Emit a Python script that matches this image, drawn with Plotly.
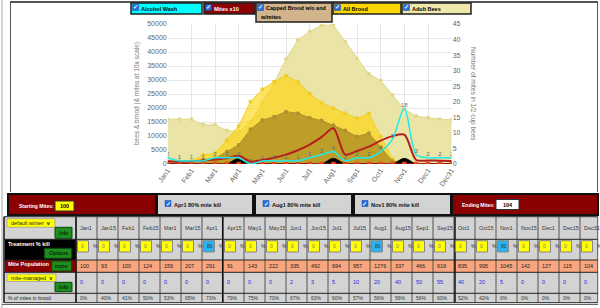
import plotly.graph_objects as go

W, H = 600, 308
def X(p): return p / W
def Y(p): return 1 - p / H

# ---------------- data ----------------
dates = ["Jan1","Jan15","Feb1","Feb15","Mar1","Mar15","Apr1","Apr15","May1","May15","Jun1","Jun15",
         "Jul1","Jul15","Aug1","Aug15","Sep1","Sep15","Oct1","Oct15","Nov1","Nov15","Dec1","Dec15","Dec31"]
adult_bees = [16000,16000,16000,14000,14000,12000,11500,15000,22000,29000,37500,44300,47300,49600,
              49600,43700,37700,32100,29800,24600,19500,17100,16500,16000,15800]
all_brood = [1000,1000,1000,3200,3800,8600,13600,22200,26700,29400,31500,29400,25200,21900,19900,
             18100,16300,18000,9800,1800,0,0,0,0,0]
capped_brood = [500,500,500,1500,2000,4400,6800,12400,15700,16900,18700,18100,16500,15500,13800,
                12000,9800,11000,6000,1000,0,0,0,0,0]
treatment_marker = [0,0,0,0,0,0,2000,0,0,0,0,0,0,0,2000,0,0,0,0,0,2000,0,0,0,0]
zero_line = [0]*25
mite_pop = [100,93,100,124,159,207,291,91,143,222,335,492,694,957,1276,337,466,619,835,995,1045,142,127,115,104]
alcohol_wash = [2,1,1,1,2,2,2,0,1,1,1,1,2,3,4,1,2,2,4,8,18,3,2,2,2]
treatment_kill = [0,0,0,0,0,0,80,0,0,0,0,0,0,0,80,0,0,0,0,0,80,0,0,0,0]
mite_managed = [0,0,0,0,0,0,0,0,0,0,2,3,5,10,20,40,50,55,40,20,5,0,0,0,0]
pct_in_brood = [0,40,41,50,53,65,73,79,75,70,67,63,60,57,56,56,56,60,52,42,0,0,0,0,0]
starting_mites = "100"
ending_mites = "104"

xs = list(range(len(dates)))
mites_x10 = [m * 10 for m in mite_pop]

FONT = "Arial, Liberation Sans, sans-serif"
fig = go.Figure()
fig.add_trace(go.Scatter(x=xs, y=adult_bees, fill='tozeroy', mode='lines+markers',
                         line=dict(color='rgb(226,216,140)', width=1),
                         marker=dict(size=4, color='rgb(226,216,140)'),
                         fillcolor='rgb(234,228,166)', hoverinfo='skip'))
fig.add_trace(go.Scatter(x=xs, y=all_brood, fill='tozeroy', mode='lines+markers',
                         line=dict(color='rgb(240,205,40)', width=1),
                         marker=dict(size=4, color='rgb(240,205,40)'),
                         fillcolor='rgba(255,212,0,0.6)', hoverinfo='skip'))
fig.add_trace(go.Scatter(x=xs, y=capped_brood, fill='tozeroy', mode='lines+markers',
                         line=dict(color='rgb(175,145,45)', width=1),
                         marker=dict(size=4, color='rgb(175,145,45)'),
                         fillcolor='rgba(140,110,20,0.55)', hoverinfo='skip'))
fig.add_trace(go.Scatter(x=xs, y=treatment_marker, fill='tozeroy', mode='lines',
                         line=dict(color='black', width=1, shape='spline', smoothing=1),
                         fillcolor='black', hoverinfo='skip'))
fig.add_trace(go.Scatter(x=xs, y=zero_line, mode='lines+markers',
                         line=dict(color='rgb(150,20,20)', width=1.5),
                         marker=dict(symbol='square', size=4.5, color='rgb(228,70,25)'),
                         hoverinfo='skip'))
fig.add_trace(go.Scatter(x=xs, y=mites_x10, mode='lines',
                         line=dict(color='rgb(180,30,30)', width=2, shape='spline', smoothing=0.8),
                         hoverinfo='skip'))
fig.add_trace(go.Scatter(x=xs, y=alcohol_wash, mode='lines+text', yaxis='y2',
                         text=[str(v) for v in alcohol_wash], textposition='top center',
                         textfont=dict(size=6, color='rgb(90,110,140)', family=FONT),
                         line=dict(color='rgb(30,235,235)', width=1.5, shape='spline', smoothing=0.8),
                         hoverinfo='skip'))

shapes = []
annots = []

def rect(x0, y0, x1, y1, fill, line=None, lw=1):
    shapes.append(dict(type='rect', xref='paper', yref='paper', x0=X(x0), x1=X(x1),
                       y0=Y(y1), y1=Y(y0), fillcolor=fill, layer='above',
                       line=dict(color=line if line else fill, width=lw if line else 0)))

def hline(x0, x1, y, color, lw=1):
    shapes.append(dict(type='line', xref='paper', yref='paper', x0=X(x0), x1=X(x1),
                       y0=Y(y), y1=Y(y), line=dict(color=color, width=lw), layer='above'))

def vline(x, y0, y1, color, lw=1):
    shapes.append(dict(type='line', xref='paper', yref='paper', x0=X(x), x1=X(x),
                       y0=Y(y0), y1=Y(y1), line=dict(color=color, width=lw), layer='above'))

def text(x, y, s, size=5.5, color='#000', anchor='left', bold=False, angle=0):
    annots.append(dict(xref='paper', yref='paper', x=X(x), y=Y(y), text=('<b>%s</b>' % s) if bold else s,
                       showarrow=False, xanchor=anchor, yanchor='middle', textangle=angle,
                       font=dict(size=size, color=color, family=FONT)))

def checkbox(x, y):
    rect(x, y - 3, x + 6, y + 3, 'rgb(40,110,220)', 'rgb(20,70,170)', 0.5)
    text(x + 3, y, '✓', size=5.5, color='white', anchor='center', bold=True)

# ---------- outer frame ----------
vline(2, 0, 308, '#aaa', 1)
vline(10.5, 2, 192, '#555', 1)
hline(10, 598, 2, '#555', 2)
vline(597.5, 2, 192, '#555', 1)

# ---------- top legend boxes ----------
leg = [("Alcohol Wash", 131, 202, 'rgb(0,255,255)', 'black', 14),
       ("Mites x10", 204, 255, 'rgb(139,0,0)', 'white', 14),
       ("Capped Brood w/o and<br>w/mites", 256, 332, 'rgb(210,180,140)', 'black', 22),
       ("All Brood", 333, 401, 'rgb(255,215,0)', 'black', 14),
       ("Adult Bees", 402, 471, 'rgb(238,232,170)', 'black', 14)]
for name, x0, x1, fc, tc, yb in leg:
    rect(x0, 3, x1, yb, fc, '#222', 1.5)
    checkbox(x0 + 1.5, 7.5)
    if '<br>' in name:
        text(x0 + 8, 7.8, "Capped Brood w/o and", size=5.5, color=tc, bold=True)
        text(x0 + 1.5, 16.5, "w/mites", size=5.5, color=tc, bold=True)
    else:
        text(x0 + 8, 8.8, name, size=5.5, color=tc, bold=True)

# axis titles
text(137, 94, "bees & brood (& mites at 10x scale)", size=6.5, color='#777', anchor='center', angle=-90)
text(473, 94, "Number of mites in 1/2 cup bees", size=6.5, color='#777', anchor='center', angle=90)

# ---------- middle bar ----------
rect(8, 194, 156, 215, 'rgb(139,0,0)', '#111', 2)
text(17, 205.5, "Starting Mites:", size=5, color='white', bold=True)
rect(55, 201, 74, 211, 'rgb(255,255,0)', '#333', 1)
text(58, 206, starting_mites, size=5.5, color='#000', bold=True)
for lbl, x0, x1 in [("Apr1 80% mite kill", 157, 253), ("Aug1 80% mite kill", 255, 352),
                    ("Nov1 80% mite kill", 354, 451)]:
    rect(x0, 194, x1, 215, 'rgb(211,211,211)', '#111', 2)
    checkbox(x0 + 8, 203.5)
    text(x0 + 14.5, 204.5, lbl, size=5.5, color='#111', bold=True)
rect(452, 194, 598, 215, 'rgb(139,0,0)', '#111', 2)
text(460, 204.5, "Ending Mites:", size=5, color='white', bold=True)
rect(496, 199.5, 519, 209.5, 'white', '#333', 1)
text(501, 204.5, ending_mites, size=5.5, color='#000', bold=True)

# ---------- table ----------
T0, T1 = 216.7, 302.7
rows = [216.7, 239.3, 260, 272.3, 293.3, 302.7]
colx = [76 + 21 * i for i in range(len(dates))] + [597.7]
rect(4, T0, 597.7, T1, 'rgb(211,211,211)')
rect(5, 239.3, 76, 260, 'black')
rect(5, 260, 76, 272.3, 'rgb(139,0,0)')
rect(76, 260, 597.7, 272.3, 'rgb(250,165,125)')
for x in colx:
    vline(x, T0, T1, '#555', 1)
for x in [76, 222.7, 455]:
    vline(x, T0, T1, '#111', 1.5)
for y in rows:
    hline(4, 597.7, y, '#222', 1)
vline(4, T0, T1, '#111', 1.5)
hline(2, 598, 304.5, '#666', 1)

for i, d in enumerate(dates):
    cx = colx[i]
    text(cx + 2, 228, d, size=5.5, color='#333')
    k = treatment_kill[i]
    fc = 'rgb(40,180,240)' if k > 0 else 'rgb(255,255,0)'
    rect(cx + 1.5, 240.7, cx + 12.5, 252, fc, '#888', 1)
    text(cx + 3, 246.3, str(k), size=5, color='#777' if k == 0 else '#333')
    text(cx + 15, 246.3, '%', size=5, color='#333')
    text(cx + 2, 266, str(mite_pop[i]), size=5.5, color='#222')
    text(cx + 2, 282.3, str(mite_managed[i]), size=5.5, color='rgb(40,40,230)')
    text(cx + 2, 298.3, '%d%%' % pct_in_brood[i], size=5, color='#333')

def button(x0, y0, x1, y1, s):
    rect(x0, y0, x1, y1, 'rgb(30,140,30)', 'rgb(10,70,10)', 1)
    text((x0 + x1) / 2, (y0 + y1) / 2, s, size=5.5, color='#000', anchor='center')

rect(7, 218.7, 55, 227.3, 'rgb(255,255,0)', '#aaa', 1)
text(9, 223, "default winter  <b>v</b>", size=5.5, color='#223')
button(55, 227.3, 72, 238.3, "Info")
text(6, 243.5, "Treatment % kill", size=5.5, color='white', bold=True)
button(44.3, 248.3, 71.7, 258.3, "Options")
text(6, 263.5, "Mite Population", size=5.5, color='white', bold=True)
button(51.7, 261, 71.7, 271, "more")
rect(7, 274, 56, 281.5, 'rgb(255,255,0)', '#aaa', 1)
text(9, 277.7, "mite-managed  <b>v</b>", size=5.5, color='#223')
button(55, 282.3, 72, 291.7, "Info")
text(6, 298.3, "% of mites in brood", size=5, color='#222')

fig.update_layout(
    width=W, height=H, margin=dict(l=0, r=0, t=0, b=0),
    paper_bgcolor='white', plot_bgcolor='white', showlegend=False,
    font=dict(family=FONT),
    xaxis=dict(domain=[X(167.7), X(451.7)], range=[0, 24], tickvals=list(range(0, 25, 2)),
               ticktext=[dates[i] for i in range(0, 25, 2)], tickangle=-55,
               tickfont=dict(size=7, color='#666'), showgrid=True, gridcolor='#e6e6e6',
               zeroline=False, showline=False, ticks='', automargin=False),
    yaxis=dict(domain=[Y(164), Y(24)], range=[0, 50000], dtick=5000, tickformat='d',
               tickfont=dict(size=7, color='#666'), showgrid=True, gridcolor='#e6e6e6',
               zeroline=False, ticks='', automargin=False),
    yaxis2=dict(overlaying='y', side='right', anchor='x', range=[0, 45], dtick=5,
                tickfont=dict(size=7, color='#666'), showgrid=False, zeroline=False,
                ticks='', automargin=False),
    shapes=shapes, annotations=annots,
)
fig.write_html("out.html")
